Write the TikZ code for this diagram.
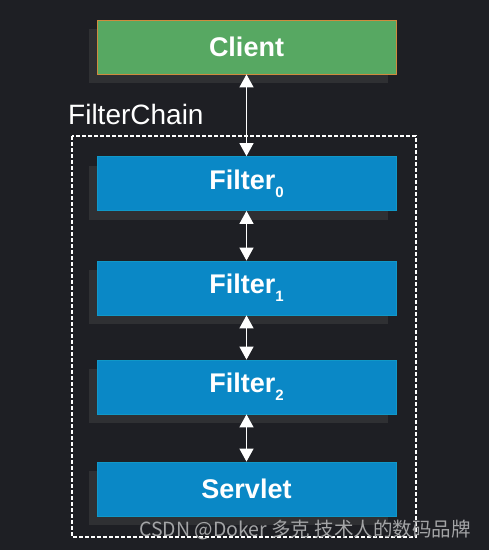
\documentclass[tikz,border=0pt]{standalone}
\usepackage{fontspec}
\setmainfont{Liberation Sans}
\newfontfamily\cjk{Noto Sans CJK SC}
\usetikzlibrary{arrows.meta,shadows,positioning}

\definecolor{bgdark}{HTML}{1E1F24}
\definecolor{shadowgray}{HTML}{2F3033}
\definecolor{clientgreen}{HTML}{57A862}
\definecolor{clientedge}{HTML}{D08A3E}
\definecolor{filterblue}{HTML}{0A88C6}
\definecolor{filteredge}{HTML}{1098C8}
\definecolor{markgray}{HTML}{A3A4A6}

\newcommand{\lowidx}[1]{\raisebox{-0.3em}{\fontsize{15}{15}\selectfont #1}}

\tikzset{
  box/.style={rectangle,minimum width=299pt,minimum height=54pt,inner sep=0pt,
    text=white,font=\fontsize{27}{27}\selectfont\bfseries,line width=0.8pt,
    general shadow={fill=shadowgray,shadow xshift=-8pt,shadow yshift=-9pt}},
  clientbox/.style={box,fill=clientgreen,draw=clientedge},
  filterbox/.style={box,fill=filterblue,draw=filteredge},
  dbl/.style={{Triangle[width=14pt,length=13pt]}-{Triangle[width=14pt,length=13pt]},
    draw=white,fill=white,line width=1.4pt}
}

\begin{document}
\begin{tikzpicture}[x=1pt,y=-1pt]
 \fill[bgdark] (0,0) rectangle (489,550); %背景
 \useasboundingbox (0,0) rectangle (489,550);
 \draw[white,line width=1.1pt,dash pattern=on 4pt off 2pt] (72,136) rectangle (416,537); %FilterChain枠
 \node[anchor=base west,inner sep=0pt,text=white,font=\fontsize{28}{28}\selectfont] (chain) at (68,124) {FilterChain};
 \node[clientbox] (client) at (246.5,47) {Client};
 \node[filterbox] (f0) at (246.5,183.5) {Filter\lowidx{0}};
 \node[filterbox] (f1) at (246.5,288) {Filter\lowidx{1}};
 \node[filterbox] (f2) at (246.5,387) {Filter\lowidx{2}};
 \node[filterbox] (servlet) at (246.5,489) {Servlet};
 \draw[dbl] (client) -- (f0);
 \draw[dbl] (f0) -- (f1);
 \draw[dbl] (f1) -- (f2);
 \draw[dbl] (f2) -- (servlet);
 \node[anchor=base west,inner sep=0pt,text=markgray,font=\cjk\fontsize{19.5}{19.5}\selectfont] (mark) at (139,536) {CSDN @Doker 多克 技术人的数码品牌}; %透かし
\end{tikzpicture}
\end{document}
